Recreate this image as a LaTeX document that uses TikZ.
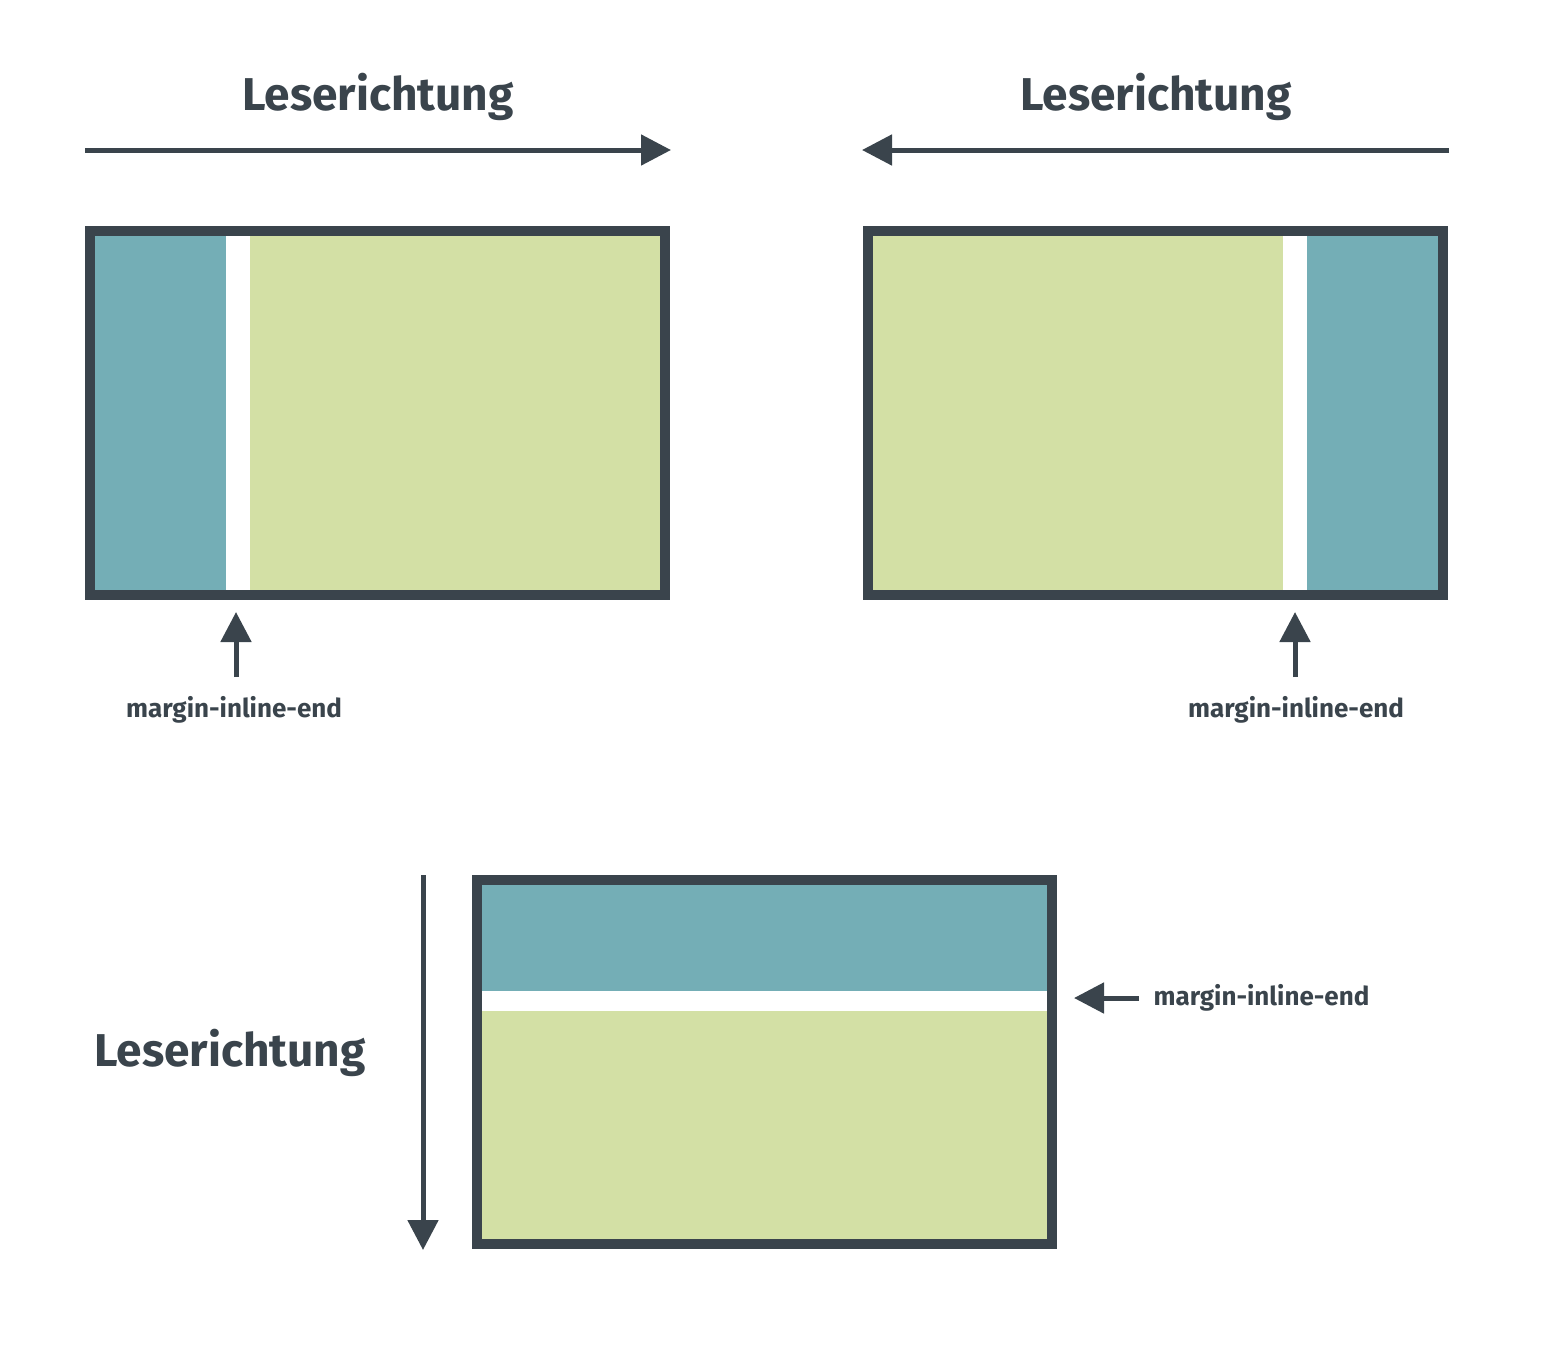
\documentclass[tikz,border=0pt]{standalone}
\usepackage{fontspec}
\setmainfont{Fira Sans}
\usetikzlibrary{arrows.meta}
\definecolor{dk}{HTML}{3A444C}
\definecolor{tl}{HTML}{74AEB6}
\definecolor{gr}{HTML}{D3E0A5}
\begin{document}
\begin{tikzpicture}[x=1pt,y=-1pt,
  frame/.style={draw=dk,line width=10pt},
  big/.style={arrows={-Triangle[length=30pt,width=30pt]},draw=dk,line width=5pt},
  small/.style={arrows={-Triangle[length=30pt,width=30pt]},draw=dk,line width=5pt},
  ttl/.style={text=dk,font=\fontsize{46}{50}\selectfont\bfseries},
  lbl/.style={text=dk,font=\fontsize{26}{30}\selectfont\bfseries}]
\useasboundingbox (0,0) rectangle (1547,1361);
% box 1
\fill[tl] (90,231) rectangle (226,595);
\fill[gr] (250,231) rectangle (665,595);
\draw[frame] (90,231) rectangle (665,595);
% box 2
\fill[gr] (868,231) rectangle (1283,595);
\fill[tl] (1307,231) rectangle (1443,595);
\draw[frame] (868,231) rectangle (1443,595);
% box 3
\fill[tl] (477,880) rectangle (1052,991);
\fill[gr] (477,1011) rectangle (1052,1244);
\draw[frame] (477,880) rectangle (1052,1244);
% titles
\node[ttl] (t1) at (378,97) {Leserichtung};
\node[ttl] (t2) at (1156,97) {Leserichtung};
\node[ttl] (t3) at (230,1053) {Leserichtung};
% direction arrows
\coordinate (a1s) at (85,150); \coordinate (a1e) at (671,150);
\draw[big] (a1s) -- (a1e);
\coordinate (a2s) at (1449,150); \coordinate (a2e) at (862,150);
\draw[big] (a2s) -- (a2e);
\coordinate (a3s) at (423,875); \coordinate (a3e) at (423,1250);
\draw[big] (a3s) -- (a3e);
% margin labels
\node[lbl] (m1) at (234,710) {margin-inline-end};
\node[lbl] (m2) at (1296,710) {margin-inline-end};
\node[lbl,anchor=west] (m3) at (1150,998) {margin-inline-end};
\coordinate (u1s) at (236,677); \coordinate (u1e) at (236,612);
\draw[small] (u1s) -- (u1e);
\coordinate (u2s) at (1295,677); \coordinate (u2e) at (1295,612);
\draw[small] (u2s) -- (u2e);
\coordinate (l3s) at (1139,998); \coordinate (l3e) at (1074,998);
\draw[small] (l3s) -- (l3e);
\end{tikzpicture}
\end{document}
